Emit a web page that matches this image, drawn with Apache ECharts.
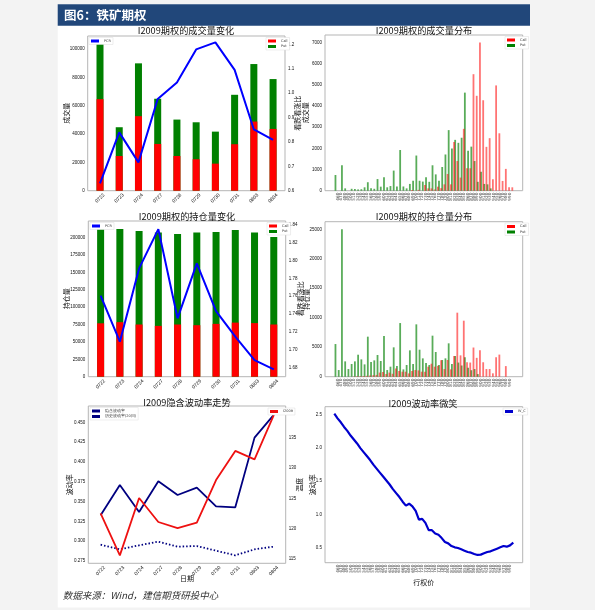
<!DOCTYPE html>
<html><head><meta charset="utf-8">
<script src="https://cdn.jsdelivr.net/npm/echarts@6/dist/echarts.min.js"></script>
<style>html,body{margin:0;padding:0;background:#f3f3f3;}#c{width:595px;height:610px;}</style>
</head><body><div id="c"></div>
<script>
// ---------- data ----------
const dates = ['0722','0723','0724','0727','0728','0729','0730','0731','0803','0804'];
const volCall = [64600, 24500, 52600, 33000, 24500, 22200, 19100, 32800, 48800, 43600];
const volPut  = [40100, 20300, 37300, 31900, 25700, 26100, 22600, 34900, 40600, 35200];
const volPCR  = [0.630, 0.839, 0.716, 0.976, 1.043, 1.179, 1.208, 1.095, 0.851, 0.808];
const oiCall = [76800, 78500, 75100, 73100, 75100, 74100, 76000, 77800, 77100, 75100];
const oiPut  = [135300, 134100, 134600, 134200, 130300, 133200, 132300, 133300, 130200, 126000];
const oiPCR  = [1.7605, 1.7088, 1.7912, 1.8354, 1.7351, 1.7969, 1.7433, 1.7145, 1.6882, 1.6778];
const strikes = [450,460,470,480,490,500,510,520,530,540,550,560,570,580,590,600,610,620,630,640,
  650,660,670,680,690,700,710,720,730,740,750,760,770,780,790,800,810,820,830,840,
  850,860,870,880,890,900,910,920,930,940,950,960,970,980,990,1000];
const distVolPut = [740,0,1200,110,0,90,80,60,70,160, 400,110,90,550,190,630,160,220,950,200,
  1920,200,110,320,470,1660,470,430,640,420, 1200,770,470,1120,1710,2860,1990,2400,2260,2500,
  4630,1890,2080,1400,420,900,320,300,110,0, 0,0,0,0,0,0];
const distVolCall = [0,0,0,0,0,0,0,0,0,0, 0,0,0,0,0,0,0,0,0,0,
  0,0,0,0,30,0,40,0,270,110, 110,60,190,120,300,790,300,2300,1400,620,
  2920,1060,1060,5500,4480,7000,4270,2070,2480,540, 4970,2710,460,1030,160,160];
const distOiPut = [5540,1130,25000,2600,1300,2150,2600,3730,2940,2090, 6790,2490,2770,3680,2660,6900,1130,1700,4980,1810,
  9100,1240,1980,4470,2150,8880,4580,3110,2320,1980, 6960,4190,1980,2830,3110,5660,2150,3510,2400,1900,
  3300,1500,1100,1300,450,0,0,0,0,0, 0,0,0,0,0,0];
const distOiCall = [0,0,0,0,0,0,50,80,100,120, 150,200,250,300,700,800,450,700,500,1400,
  960,850,850,560,960,1130,1070,850,850,1700, 2200,1700,1850,2800,1300,2830,1250,3500,10860,3620,
  9500,2450,2400,4950,3200,4500,2450,1300,1300,570, 3300,3750,0,1800,0,0];
const impliedVol = [0.3327, 0.3710, 0.3369, 0.3756, 0.3583, 0.3676, 0.3440, 0.3428, 0.4307, 0.4593];
const histVol    = [0.2956, 0.2897, 0.2948, 0.2994, 0.2931, 0.2939, 0.2880, 0.2822, 0.2897, 0.2931];
const underlying = [122.5, 115.6, 125.05, 121.1, 120.1, 121.0, 128.0, 132.8, 131.4, 138.7];
const smileVol = [2.52,2.45,2.39,2.32,2.26,2.19,2.13,2.07,2.00,1.94, 1.88,1.82,1.75,1.69,1.63,1.57,1.51,1.45,1.38,1.32,
  1.26,1.19,1.13,1.16,1.12,1.05,0.92,0.93,0.87,0.76, 0.76,0.71,0.69,0.64,0.58,0.56,0.52,0.50,0.49,0.47,
  0.45,0.43,0.42,0.40,0.385,0.39,0.41,0.43,0.44,0.46, 0.48,0.50,0.52,0.51,0.53,0.57];
const volTicks = [0,20000,40000,60000,80000,100000];
const pcrVolTicks = [0.6,0.7,0.8,0.9,1.0,1.1,1.2];
const distVolTicks = [0,1000,2000,3000,4000,5000,6000,7000];
const oiTicks = [0,25000,50000,75000,100000,125000,150000,175000,200000];
const pcrOiTicks = [1.68,1.70,1.72,1.74,1.76,1.78,1.80,1.82,1.84];
const distOiTicks = [0,5000,10000,15000,20000,25000];
const ivTicks = [0.275,0.300,0.325,0.350,0.375,0.400,0.425,0.450];
const undTicks = [115,120,125,130,135];
const smileTicks = [0.5,1.0,1.5,2.0,2.5];

// ---------- layout ----------
const CJK = '"Noto Sans CJK SC", sans-serif';
const SANS = '"DejaVu Sans", sans-serif';
const ARIAL = '"Liberation Sans", sans-serif';
const dIdx = dates.map((d,i)=>i);
const sIdx = strikes.map((s,i)=>i);
const pair = arr => arr.map((v,i)=>[i,v]);
// stacked top = call + put (drawn behind the call bar)
const stackTop = (a,b) => a.map((v,i)=>[i, v + b[i]]);

const gridDefs = [
  {left:87.7, top:36, width:197.3, height:154.7},
  {left:325, top:35, width:197.7, height:155.7},
  {left:88.3, top:221, width:197.4, height:155.7},
  {left:325, top:221.7, width:197.7, height:155},
  {left:88.3, top:406, width:197.4, height:157.3},
  {left:325, top:406.7, width:197.7, height:156}
];
const grid = gridDefs.map(g => Object.assign({show:true, borderColor:'#b5b5b5', borderWidth:1, backgroundColor:'#fff'}, g));
const nameStyle = {fontFamily:CJK, fontSize:7, color:'#111'};

function dateX(gi, name, gap){
  return {type:'value', gridIndex:gi, min:-0.64, max:9.62,
    splitLine:{show:false}, axisLine:{show:false}, axisTick:{show:false},
    axisLabel:{customValues:dIdx, formatter:v=>dates[Math.round(v)], rotate:45, fontSize:5, color:'#111',
      fontFamily:ARIAL, margin:7.5, align:'center', verticalAlign:'middle'},
    name: name||'', nameLocation:'middle', nameGap:gap||10, nameMoveOverlap:false, nameTextStyle:nameStyle};
}
function strikeX(gi, mn, mx, name, gap){
  return {type:'value', gridIndex:gi, min:mn, max:mx,
    splitLine:{show:false}, axisLine:{show:false}, axisTick:{show:false},
    axisLabel:{customValues:sIdx, formatter:v=>String(strikes[Math.round(v)]), rotate:90, fontSize:4.2,
      color:'#444', fontFamily:SANS, margin:2},
    name: name||'', nameLocation:'middle', nameGap:gap||15, nameMoveOverlap:false, nameTextStyle:nameStyle};
}
function yAx(gi, mn, mx, ticks, fmt, pos, name, gap){
  return {type:'value', gridIndex:gi, min:mn, max:mx, position:pos||'left',
    splitLine:{show:false}, axisLine:{show:false}, axisTick:{show:false},
    axisLabel:{customValues:ticks, formatter:fmt, fontSize:4.5, color:'#111', fontFamily:ARIAL, margin:3},
    name:name||'', nameLocation:'middle', nameRotate:90, nameGap:gap||20, nameMoveOverlap:false,
    nameTextStyle:nameStyle};
}
const intFmt = v => String(Math.round(v));

const xAxis = [
  dateX(0), strikeX(1, -3.07, 58.05), dateX(2), strikeX(3, -3.07, 58.05),
  dateX(4, '日期', 11.5), strikeX(5, -2.86, 57.89, '行权价', 15.8)
];
const yAxis = [
  yAx(0, 0, 109200, volTicks, intFmt, 'left', '成交量', 17.7),
  yAx(0, 0.6, 1.234, pcrVolTicks, v=>v.toFixed(1), 'right', '看跌看涨比', 9.1),
  yAx(1, 0, 7350, distVolTicks, intFmt, 'left', '成交量', 16),
  yAx(2, 0, 224000, oiTicks, intFmt, 'left', '持仓量', 18),
  yAx(2, 1.6695, 1.8445, pcrOiTicks, v=>v.toFixed(2), 'right', '看跌看涨比', 11),
  yAx(3, 0, 26290, distOiTicks, intFmt, 'left', '持仓量', 15.5),
  yAx(4, 0.2721, 0.4706, ivTicks, v=>v.toFixed(3), 'left', '波动率', 15.1),
  yAx(4, 114.3, 140.2, undTicks, intFmt, 'right', '温度', 10.3),
  yAx(5, 0.268, 2.626, smileTicks, v=>v.toFixed(1), 'left', '波动率', 9.5)
];

const titleStyle = {fontFamily:CJK, fontSize:9.2, fontWeight:'normal', color:'#111'};
const titles = [
  ['I2009期权的成交量变化', 186, 26],
  ['I2009期权的成交量分布', 424, 26],
  ['I2009期权的持仓量变化', 187, 212],
  ['I2009期权的持仓量分布', 424, 212],
  ['I2009隐含波动率走势', 187, 398],
  ['I2009波动率微笑', 423, 399]
].map(t => ({text:t[0], left:t[1], top:t[2], textAlign:'center', padding:0, textStyle:titleStyle}));

const lg = {itemWidth:8, itemHeight:3, itemGap:1.5, padding:[1.5,2], orient:'vertical',
  backgroundColor:'#fff', borderColor:'#ddd', borderWidth:0.5,
  textStyle:{fontSize:3.5, color:'#333', fontFamily:SANS}, selectedMode:false};
const legend = [
  Object.assign({}, lg, {left:89, top:37.5, data:[{name:'PCR', icon:'rect'}]}),
  Object.assign({}, lg, {left:266, top:37.5, data:[{name:'Call', icon:'rect'},{name:'Put', icon:'rect'}]}),
  Object.assign({}, lg, {left:505, top:36.5, data:[{name:'Call', icon:'rect'},{name:'Put', icon:'rect'}]}),
  Object.assign({}, lg, {left:90, top:222.5, data:[{name:'PCR', icon:'rect'}]}),
  Object.assign({}, lg, {left:267, top:222.5, data:[{name:'Call', icon:'rect'},{name:'Put', icon:'rect'}]}),
  Object.assign({}, lg, {left:505, top:223, data:[{name:'Call', icon:'rect'},{name:'Put', icon:'rect'}]}),
  Object.assign({}, lg, {left:90, top:407.5, data:[{name:'隐含波动率', icon:'rect'},{name:'历史波动率(20日)', icon:'rect'}]}),
  Object.assign({}, lg, {left:268, top:408, data:[{name:'I2009', icon:'rect'}]}),
  Object.assign({}, lg, {left:503, top:408, data:[{name:'IV_C', icon:'rect'}]})
];

const RED = '#ff0000', GREEN = '#008000', BLUE = '#0000ff';
const series = [
  {type:'bar', name:'Put', xAxisIndex:0, yAxisIndex:0, barWidth:7, barGap:'-100%', itemStyle:{color:GREEN}, data:stackTop(volCall, volPut)},
  {type:'bar', name:'Call', xAxisIndex:0, yAxisIndex:0, barWidth:7, barGap:'-100%', itemStyle:{color:RED}, data:pair(volCall)},
  {type:'line', name:'PCR', xAxisIndex:0, yAxisIndex:1, symbol:'none', lineStyle:{color:BLUE, width:2}, itemStyle:{color:BLUE}, data:pair(volPCR), z:5},

  {type:'bar', name:'Put', xAxisIndex:1, yAxisIndex:2, barWidth:1.8, barGap:'-160%', itemStyle:{color:'rgba(0,128,0,0.65)'}, data:pair(distVolPut)},
  {type:'bar', name:'Call', xAxisIndex:1, yAxisIndex:2, barWidth:1.8, barGap:'-160%', itemStyle:{color:'rgba(255,0,0,0.55)'}, data:pair(distVolCall)},

  {type:'bar', name:'Put', xAxisIndex:2, yAxisIndex:3, barWidth:7, barGap:'-100%', itemStyle:{color:GREEN}, data:stackTop(oiCall, oiPut)},
  {type:'bar', name:'Call', xAxisIndex:2, yAxisIndex:3, barWidth:7, barGap:'-100%', itemStyle:{color:RED}, data:pair(oiCall)},
  {type:'line', name:'PCR', xAxisIndex:2, yAxisIndex:4, symbol:'none', lineStyle:{color:BLUE, width:2}, itemStyle:{color:BLUE}, data:pair(oiPCR), z:5},

  {type:'bar', name:'Put', xAxisIndex:3, yAxisIndex:5, barWidth:1.8, barGap:'-160%', itemStyle:{color:'rgba(0,128,0,0.65)'}, data:pair(distOiPut)},
  {type:'bar', name:'Call', xAxisIndex:3, yAxisIndex:5, barWidth:1.8, barGap:'-160%', itemStyle:{color:'rgba(255,0,0,0.55)'}, data:pair(distOiCall)},

  {type:'line', name:'隐含波动率', xAxisIndex:4, yAxisIndex:6, symbol:'none', lineStyle:{color:'#000080', width:1.8}, itemStyle:{color:'#000080'}, data:pair(impliedVol)},
  {type:'line', name:'历史波动率(20日)', xAxisIndex:4, yAxisIndex:6, symbol:'none', lineStyle:{color:'#000080', width:1.8, type:[1.5,2]}, itemStyle:{color:'#000080'}, data:pair(histVol)},
  {type:'line', name:'I2009', xAxisIndex:4, yAxisIndex:7, symbol:'none', lineStyle:{color:'#ee1111', width:1.8}, itemStyle:{color:'#ee1111'}, data:pair(underlying)},

  {type:'line', name:'IV_C', xAxisIndex:5, yAxisIndex:8, symbol:'none', lineStyle:{color:'#0000cd', width:2.2}, itemStyle:{color:'#0000cd'}, data:pair(smileVol)}
];

const graphic = [
  {type:'rect', shape:{x:57.7, y:4, width:472.3, height:603.5}, style:{fill:'#ffffff'}, z:-10, silent:true},
  {type:'rect', shape:{x:57.7, y:4.3, width:472.3, height:21.4}, style:{fill:'#21477a'}, z:-5, silent:true},
  {type:'text', x:64, y:15, style:{text:'图6：铁矿期权', fill:'#ffffff', font:'bold 12.5px "Noto Sans CJK SC", sans-serif', verticalAlign:'middle'}},
  {type:'text', x:62.7, y:595, style:{text:'数据来源：Wind，建信期货研投中心', fill:'#333', font:'italic 9.5px "Noto Sans CJK SC", sans-serif', verticalAlign:'middle'}}
];

const chart = echarts.init(document.getElementById('c'), null, {renderer:'canvas'});
chart.setOption({animation:false, backgroundColor:'transparent', title:titles, legend, grid, xAxis, yAxis, series, graphic});
</script></body></html>
